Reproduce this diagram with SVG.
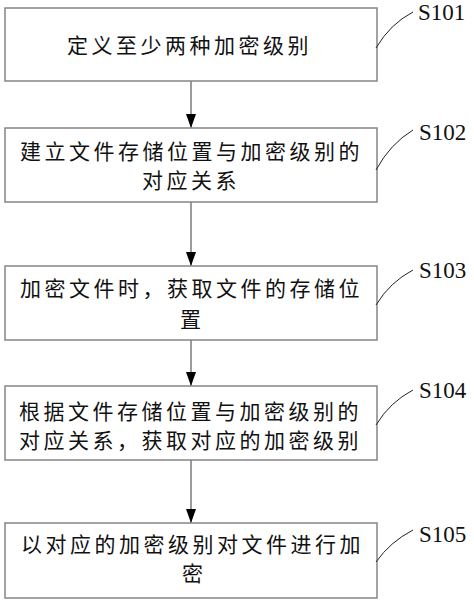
<svg xmlns="http://www.w3.org/2000/svg" width="474" height="600" viewBox="0 0 474 600">
<defs>
<style>
.box{fill:#fff;stroke:#858585;stroke-width:1.5}
.t{font-family:"Noto Sans CJK SC","Noto Sans",sans-serif;font-size:21px;letter-spacing:3.5px;fill:#111}
.lb{font-family:"Liberation Serif","Times New Roman",serif;font-size:23px;fill:#111}
.ld{fill:none;stroke:#222;stroke-width:1}
.ar{stroke:#666;stroke-width:1.3;fill:none;marker-end:url(#ah)}
</style>
<marker id="ah" markerWidth="14" markerHeight="10" refX="14" refY="5" orient="auto" markerUnits="userSpaceOnUse" viewBox="0 0 14 10">
<path d="M0,0 L14,5 L0,10 Z" fill="#000"/>
</marker>
</defs>
<rect width="474" height="600" fill="#fff"/>
<g id="connectors">
<line class="ar" x1="191" y1="81" x2="191" y2="128"/>
<line class="ar" x1="191" y1="202" x2="191" y2="266"/>
<line class="ar" x1="191" y1="340" x2="191" y2="386"/>
<line class="ar" x1="191" y1="460" x2="191" y2="523"/>
</g>
<g id="S101">
<rect class="box" x="5" y="8" width="372" height="73"/>
<text class="t" x="67" y="53">定义至少两种加密级别</text>
<path class="ld" d="M376,48 Q390,24 413,12"/>
<text class="lb" x="418" y="20">S101</text>
</g>
<g id="S102">
<rect class="box" x="5" y="128" width="372" height="74"/>
<text class="t" x="20" y="159">建立文件存储位置与加密级别的</text>
<text class="t" x="142" y="188">对应关系</text>
<path class="ld" d="M376,170 Q390,144 413,130"/>
<text class="lb" x="419" y="140">S102</text>
</g>
<g id="S103">
<rect class="box" x="5" y="266" width="372" height="74"/>
<text class="t" x="20" y="296">加密文件时，获取文件的存储位</text>
<text class="t" x="180" y="327">置</text>
<path class="ld" d="M376,305 Q390,282 413,270"/>
<text class="lb" x="419" y="278">S103</text>
</g>
<g id="S104">
<rect class="box" x="5" y="386" width="372" height="74"/>
<text class="t" x="19" y="419">根据文件存储位置与加密级别的</text>
<text class="t" x="19" y="448">对应关系，获取对应的加密级别</text>
<path class="ld" d="M376,425 Q390,402 413,390"/>
<text class="lb" x="419" y="398">S104</text>
</g>
<g id="S105">
<rect class="box" x="5" y="523" width="372" height="75"/>
<text class="t" x="21" y="552">以对应的加密级别对文件进行加</text>
<text class="t" x="182" y="581">密</text>
<path class="ld" d="M376,562 Q390,542 413,530"/>
<text class="lb" x="419" y="542">S105</text>
</g>
</svg>
